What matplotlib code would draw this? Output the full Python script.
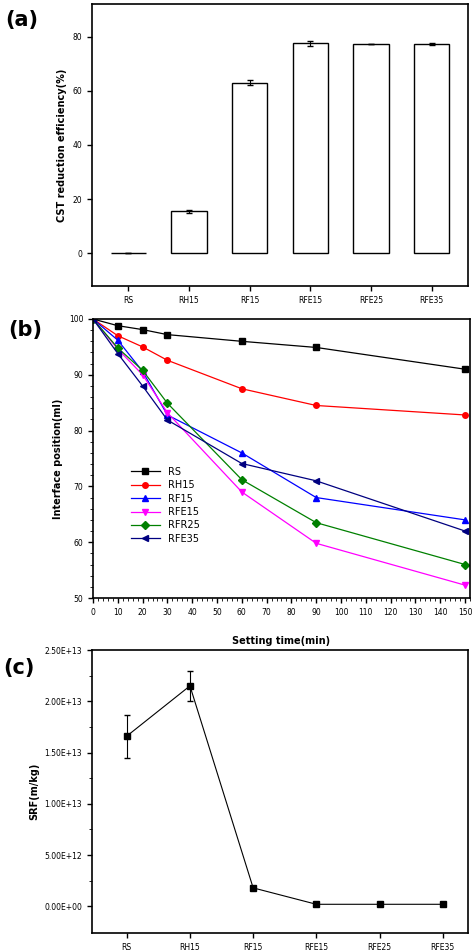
import numpy as np
import matplotlib.pyplot as plt

samples = ["RS", "RH15", "RF15", "RFE15", "RFE25", "RFE35"]
cst_eff = [0.0, 15.5, 63.0, 77.5, 77.4, 77.2]
cst_err = [0.0, 0.4, 0.8, 0.9, 0.0, 0.4]

time_min = [0, 10, 20, 30, 60, 90, 150]
interface = {
    "RS": [100, 98.8, 98.1, 97.2, 96.0, 94.9, 91.0],
    "RH15": [100, 97.0, 95.0, 92.6, 87.5, 84.5, 82.8],
    "RF15": [100, 96.2, 90.6, 82.8, 76.0, 68.0, 64.0],
    "RFE15": [100, 94.6, 90.0, 83.2, 69.0, 59.8, 52.3],
    "RFR25": [100, 94.8, 90.8, 84.9, 71.2, 63.5, 56.0],
    "RFE35": [100, 93.8, 88.0, 81.9, 74.1, 71.0, 62.0],
}
styles = {
    "RS": ("black", "s"),
    "RH15": ("red", "o"),
    "RF15": ("blue", "^"),
    "RFE15": ("magenta", "v"),
    "RFR25": ("green", "D"),
    "RFE35": ("navy", "<"),
}

srf = [1.66e13, 2.15e13, 1.8e12, 2.0e11, 2.0e11, 2.0e11]
srf_err = [2.1e12, 1.5e12, 0, 0, 0, 0]

plt.rcParams["font.family"] = "DejaVu Sans"
fig = plt.figure(figsize=(4.74, 9.51), dpi=100)
W, H = 474, 951

def axbox(x0, y0, x1, y1):
    return fig.add_axes([x0 / W, 1 - y1 / H, (x1 - x0) / W, (y1 - y0) / H])

tick_kw = dict(direction="out", labelsize=5.5, width=1)

# (a)
ax = axbox(92, 4, 468, 286)
x = np.arange(len(samples))
ax.bar(x, cst_eff, width=0.58, color="white", edgecolor="black", linewidth=1,
       yerr=cst_err, capsize=2, error_kw=dict(elinewidth=0.8))
ax.set_xticks(x, samples)
ax.set_xlim(-0.6, 5.6)
ax.set_ylim(-12, 92)
ax.set_yticks([0, 20, 40, 60, 80])
ax.set_ylabel("CST reduction efficiency(%)", fontsize=7, fontweight="bold")
ax.tick_params(**tick_kw)
for s in ax.spines.values():
    s.set_linewidth(1.2)
fig.text(5 / W, 1 - 20 / H, "(a)", fontsize=15, fontweight="bold", va="center")

# (b)
ax = axbox(93, 319, 470, 598)
for name, vals in interface.items():
    c, m = styles[name]
    ax.plot(time_min, vals, color=c, marker=m, markersize=4, linewidth=0.9, label=name)
ax.set_xlim(0, 152)
ax.set_ylim(50, 100)
ax.set_xticks(range(0, 151, 10))
ax.set_yticks(range(50, 101, 10))
ax.minorticks_on()
ax.set_xlabel("Setting time(min)", fontsize=7, fontweight="bold", labelpad=14)
ax.set_ylabel("Interface position(ml)", fontsize=7, fontweight="bold")
ax.tick_params(**tick_kw)
ax.tick_params(which="minor", direction="out", length=2)
ax.legend(loc="lower left", bbox_to_anchor=(0.09, 0.18), frameon=False, fontsize=7,
          handlelength=3, labelspacing=0.35, borderaxespad=0)
for s in ax.spines.values():
    s.set_linewidth(1.2)
fig.text(8 / W, 1 - 330 / H, "(b)", fontsize=15, fontweight="bold", va="center")

# (c)
ax = axbox(92, 650, 468, 933)
ax.errorbar(x, srf, yerr=srf_err, color="black", marker="s", markersize=4,
            linewidth=0.8, capsize=2, elinewidth=0.8)
ax.set_xticks(x, samples)
ax.set_xlim(-0.55, 5.4)
ax.set_ylim(-2.6e12, 2.5e13)
yt = np.arange(0, 2.51e13, 5e12)
ax.set_yticks(yt, ["%.2E" % v for v in yt])
ax.set_yticks(np.arange(0, 2.51e13, 2.5e12), minor=True)
ax.set_ylabel("SRF(m/kg)", fontsize=7, fontweight="bold")
ax.tick_params(**tick_kw)
ax.tick_params(which="minor", direction="out", length=2)
for s in ax.spines.values():
    s.set_linewidth(1.2)
fig.text(3 / W, 1 - 668 / H, "(c)", fontsize=15, fontweight="bold", va="center")

fig.savefig("out.png", dpi=100)
